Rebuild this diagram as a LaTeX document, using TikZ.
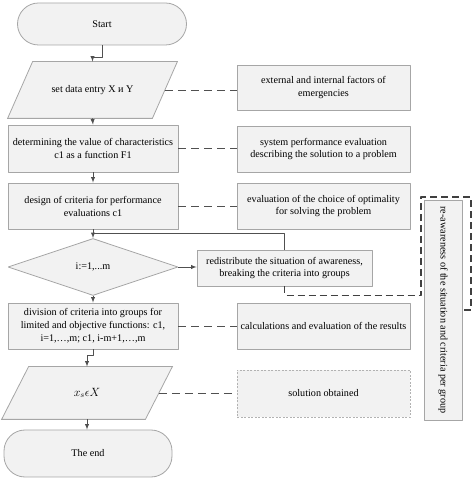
\documentclass[tikz,border=0pt]{standalone}
\usepackage{fontspec}
\setmainfont{Liberation Serif}
\usetikzlibrary{shapes.geometric,backgrounds}
\definecolor{boxfill}{HTML}{F2F2F2}
\definecolor{boxline}{HTML}{A6A6A6}
\definecolor{flowline}{HTML}{505050}
\begin{document}
\begin{tikzpicture}[>=latex,line join=bevel,
  procbox/.style={draw=boxline,fill=boxfill,line width=0.8bp,inner sep=1bp,align=center,font=\fontsize{10.2}{13}\selectfont},
  termbox/.style={procbox,rounded corners=21bp},
  iotext/.style={procbox,draw=none,fill=none},
  ioshape/.style={draw=boxline,fill=boxfill,line width=0.8bp},
  ifbox/.style={procbox,shape=diamond,inner sep=0bp},
  flow/.style={draw=flowline,line width=0.9bp},
  dashlink/.style={draw=flowline,line width=0.9bp,dash pattern=on 8bp off 5bp},
  bracketlink/.style={draw=black!75,line width=1.3bp,dash pattern=on 7bp off 4bp},
]
\useasboundingbox (0bp,0bp) rectangle (474bp,479bp);
%%
\node (node_start) at (102bp,455bp) [termbox,minimum width=169bp,minimum height=42bp] {Start};
  \node (node_data) at (92.5bp,389bp) [iotext,minimum width=144bp,minimum height=56bp] {set data entry X и Y};
  \node (node_char) at (93bp,330.5bp) [procbox,minimum width=170bp,minimum height=47bp] {determining the value of characteristics\\c1 as a function F1};
  \node (node_crit) at (93bp,273bp) [procbox,minimum width=170bp,minimum height=46bp] {design of criteria for performance\\evaluations c1};
  \node (node_loop) at (93bp,212bp) [ifbox,minimum width=170bp,minimum height=57bp] {i:=1,...m};
  \node (node_div) at (93bp,153bp) [procbox,minimum width=170bp,minimum height=46bp] {division of criteria into groups for\\limited and objective functions: c1,\\i=1,…,m; c1, i-m+1,…,m};
  \node (node_out) at (87bp,86bp) [iotext,minimum width=143bp,minimum height=52bp,font=\fontsize{12}{14}\selectfont] {$x_s\epsilon X$};
  \node (node_end) at (88bp,25.5bp) [termbox,minimum width=168bp,minimum height=47bp] {The end};
%
\begin{scope}[on background layer]
  \draw [ioshape] ([xshift=-12.5bp]node_data.south west) -- ([xshift=-12.5bp]node_data.south east)
    -- ([xshift=12.5bp]node_data.north east) -- ([xshift=12.5bp]node_data.north west) -- cycle;
  \draw [ioshape] ([xshift=-13.5bp]node_out.south west) -- ([xshift=-13.5bp]node_out.south east)
    -- ([xshift=13.5bp]node_out.north east) -- ([xshift=13.5bp]node_out.north west) -- cycle;
\end{scope}
%
\node (node_factors) at (323.5bp,391.5bp) [procbox,minimum width=173bp,minimum height=45bp] {external and internal factors of\\emergencies};
  \node (node_perf) at (323.5bp,330bp) [procbox,minimum width=173bp,minimum height=46bp] {system performance evaluation\\describing the solution to a problem};
  \node (node_optim) at (323.5bp,273bp) [procbox,minimum width=173bp,minimum height=46bp] {evaluation of the choice of optimality\\for solving the problem};
  \node (node_redis) at (284.5bp,211bp) [procbox,minimum width=175bp,minimum height=36bp] {redistribute the situation of awareness,\\breaking the criteria into groups};
  \node (node_calc) at (323.5bp,153bp) [procbox,minimum width=173bp,minimum height=46bp] {calculations and evaluation of the results};
  \node (node_sol) at (323.5bp,85.5bp) [procbox,draw=black!30,dash pattern=on 2bp off 1.5bp,minimum width=173bp,minimum height=47bp] {solution obtained};
  \node (node_reaw) at (443bp,169bp) [procbox,rotate=-90,minimum width=220bp,minimum height=38bp] {re-awareness of the situation and criteria per group};
%
\coordinate (join_loop) at (93bp,246bp);
  \coordinate (bend_a) at (421bp,282bp);
  \coordinate (bend_b) at (471bp,169bp);
%
\draw [flow,->] (node_start.south) -- ++(0,-12bp) -| (node_data.north);
  \draw [flow,->] (node_data.south) -- (node_char.north);
  \draw [flow,->] (node_char.south) -- (node_crit.north);
  \draw [flow,->] (node_crit.south) -- (node_loop.north);
  \draw [flow] (node_redis.north) |- (join_loop);
  \draw [flow,->] (node_loop.east) -- (node_loop.east -| node_redis.west);
  \draw [flow,->] (node_loop.south) -- (node_div.north);
  \draw [flow,->] (node_div.south) -- ++(0,-6bp) -| (node_out.north);
  \draw [flow,->] (node_out.south) -- (node_out.south |- node_end.north);
%
\draw [dashlink] (node_data.east) -- (node_data.east -| node_factors.west);
  \draw [dashlink] (node_char.east) -- (node_char.east -| node_perf.west);
  \draw [dashlink] (node_crit.east) -- (node_crit.east -| node_optim.west);
  \draw [dashlink] (node_div.east) -- (node_div.east -| node_calc.west);
  \draw [dashlink] (node_out.east) -- (node_out.east -| node_sol.west);
  \draw [bracketlink] (node_redis.south) -- ++(0,-9bp) -| (bend_a) -| (bend_b) -- (node_reaw.north);
%
\end{tikzpicture}
\end{document}
